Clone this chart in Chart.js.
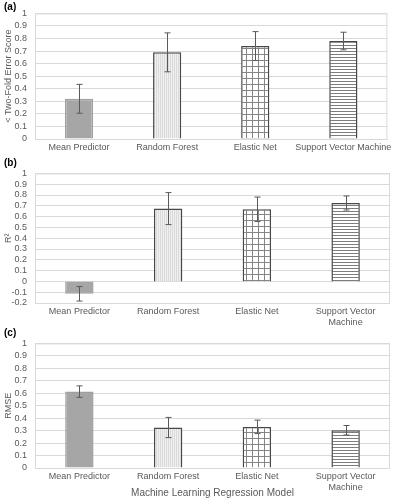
<!DOCTYPE html>
<html>
<head>
<meta charset="utf-8">
<script src="https://cdn.jsdelivr.net/npm/chart.js@4.4.1/dist/chart.umd.min.js"></script>
<style>
  body { margin: 0; background: #fff; }
  #wrap { position: relative; width: 395px; height: 500px; }
  canvas { position: absolute; left: 0; }
  .tag { position: absolute; left: 4px; font: bold 10px "Liberation Sans", Arial, sans-serif; color: #000; }
</style>
</head>
<body>
<div id="wrap">
  <canvas id="ca" width="395" height="160" style="top:0"></canvas>
  <canvas id="cb" width="395" height="170" style="top:160px"></canvas>
  <canvas id="cc" width="395" height="170" style="top:330px"></canvas>
  <div class="tag" style="top:1px">(a)</div>
  <div class="tag" style="top:157px">(b)</div>
  <div class="tag" style="top:327px">(c)</div>
</div>
<script>
var categories = ["Mean Predictor", "Random Forest", "Elastic Net", "Support Vector Machine"];
var wrappedCategories = ["Mean Predictor", "Random Forest", "Elastic Net", ["Support Vector", "Machine"]];

var errorScore = [0.32, 0.69, 0.74, 0.78];
var errorScoreErr = [0.115, 0.155, 0.115, 0.07];

var r2 = [-0.115, 0.674, 0.668, 0.726];
var r2Err = [0.067, 0.148, 0.113, 0.065];

var rmse = [0.613, 0.325, 0.33, 0.303];
var rmseErr = [0.046, 0.081, 0.054, 0.038];

var FONT = "'Liberation Sans', Arial, sans-serif";
var GRID = "#d9d9d9";
var TEXT = "#595959";

function makePattern(kind){
  var c = document.createElement('canvas');
  var ctx = c.getContext('2d');
  if (kind == 'vert') {
    c.width = 2; c.height = 2;
    ctx.fillStyle = '#f0f0f0'; ctx.fillRect(0, 0, 2, 2);
    ctx.fillStyle = '#dadada'; ctx.fillRect(0, 0, 1, 2);
  } else if (kind == 'grid') {
    c.width = 6; c.height = 6;
    ctx.fillStyle = '#ffffff'; ctx.fillRect(0, 0, 6, 6);
    ctx.fillStyle = '#858585';
    ctx.fillRect(0, 0, 6, 1);
    ctx.fillRect(0, 0, 1, 6);
  } else {
    c.width = 3; c.height = 3;
    ctx.fillStyle = '#ffffff'; ctx.fillRect(0, 0, 3, 3);
    ctx.fillStyle = '#7d7d7d'; ctx.fillRect(0, 0, 3, 1);
  }
  return ctx.createPattern(c, 'repeat');
}

var fills = ['#a6a6a6', makePattern('vert'), makePattern('grid'), makePattern('horiz')];
var borders = ['#a0a0a0', '#484848', '#484848', '#484848'];

var errorBars = {
  id: 'errorBars',
  afterDatasetsDraw: function(chart){
    var ctx = chart.ctx;
    var meta = chart.getDatasetMeta(0);
    var vals = chart.data.datasets[0].data;
    var errs = chart.data.datasets[0].errors;
    var y = chart.scales.y;
    ctx.save();
    ctx.strokeStyle = '#595959';
    ctx.lineWidth = 1;
    for (var i = 0; i < vals.length; i++) {
      var x = Math.round(meta.data[i].x) + 0.5;
      var top = y.getPixelForValue(vals[i] + errs[i]);
      var bot = y.getPixelForValue(vals[i] - errs[i]);
      ctx.beginPath();
      ctx.moveTo(x, top); ctx.lineTo(x, bot);
      ctx.moveTo(x - 3, top); ctx.lineTo(x + 3, top);
      ctx.moveTo(x - 3, bot); ctx.lineTo(x + 3, bot);
      ctx.stroke();
    }
    ctx.restore();
  }
};

var plotBorder = {
  id: 'plotBorder',
  beforeDatasetsDraw: function(chart){
    var a = chart.chartArea, ctx = chart.ctx;
    ctx.save();
    ctx.strokeStyle = GRID;
    ctx.lineWidth = 1;
    ctx.strokeRect(a.left + 0.5, a.top + 0.5, a.right - a.left - 1, a.bottom - a.top);
    ctx.restore();
  }
};

function makeChart(id, labels, values, errors, yTitle, yMin, padTop, xHeight, xTitle){
  return new Chart(document.getElementById(id).getContext('2d'), {
    type: 'bar',
    data: {
      labels: labels,
      datasets: [{
        data: values,
        errors: errors,
        backgroundColor: fills,
        borderColor: borders,
        borderWidth: 1.5,
        barPercentage: 0.32,
        categoryPercentage: 1
      }]
    },
    options: {
      responsive: false,
      animation: false,
      devicePixelRatio: 1,
      layout: { padding: { top: padTop, right: 5, left: 0, bottom: 0 } },
      plugins: { legend: { display: false }, tooltip: { enabled: false } },
      scales: {
        x: {
          grid: { display: false, drawTicks: false },
          border: { display: false },
          ticks: { color: TEXT, font: { family: FONT, size: 9 }, maxRotation: 0, autoSkip: false, padding: 3 },
          title: { display: !!xTitle, text: xTitle, color: TEXT, font: { family: FONT, size: 10 }, padding: { top: 2, bottom: 1 } },
          afterFit: function(s){ s.height = xHeight; }
        },
        y: {
          min: yMin, max: 1,
          grid: { color: GRID, drawTicks: false },
          border: { display: false },
          ticks: {
            stepSize: 0.1, autoSkip: false, color: TEXT, font: { family: FONT, size: 9 }, padding: 8,
            callback: function(v){ return String(Math.round(v * 10) / 10); }
          },
          title: { display: true, text: yTitle, color: TEXT, font: { family: FONT, size: 9 }, padding: { top: 3, bottom: 0 } },
          afterFit: function(s){ s.width = 35; }
        }
      }
    },
    plugins: [plotBorder, errorBars]
  });
}

makeChart('ca', categories, errorScore, errorScoreErr, '< Two-Fold Error Score', 0, 4, 21, '');
makeChart('cb', wrappedCategories, r2, r2Err, 'R\u00B2', -0.2, 6, 27, '');
makeChart('cc', wrappedCategories, rmse, rmseErr, 'RMSE', 0, 5, 32, 'Machine Learning Regression Model');
</script>
</body>
</html>
